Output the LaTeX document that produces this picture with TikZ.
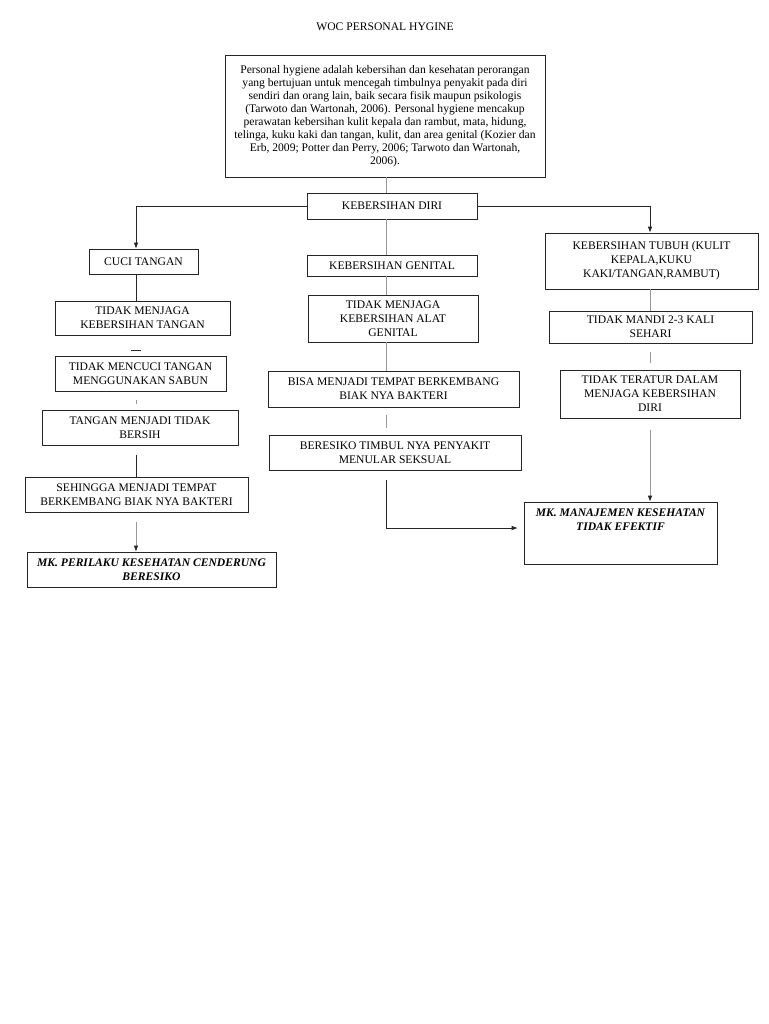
\documentclass[tikz,border=0pt]{standalone}
\usepackage{fontspec}
\setmainfont{Liberation Serif}
\usepackage{tikz}
\usetikzlibrary{positioning,arrows.meta}

\newcommand{\wocfont}{\fontsize{8.7}{10.5}\selectfont}

\tikzset{
    box/.style={draw=black!85, line width=0.6pt, align=center, inner sep=0pt, font=\wocfont},
    mkbox/.style={box, font=\wocfont\bfseries\itshape},
    link/.style={draw=black!85, line width=0.6pt},
    glink/.style={draw=black!40, line width=0.6pt},
    arr/.style={-{Latex[length=4.5pt,width=3.5pt,color=black!85]}}
}

\begin{document}
\begin{tikzpicture}[x=0.75pt,y=0.75pt,yscale=-1,xscale=1]
            \useasboundingbox (0,0) rectangle (768,1024);
            % column lines
            \coordinate (lcol) at (136,0);
            \coordinate (mcol) at (386,0);
            \coordinate (rcol) at (650,0);
            % Title
            \node [font=\wocfont] (title) at (385,27) {WOC PERSONAL HYGINE};
            % definition box
            \node [box, minimum width=240pt, minimum height=91.5pt, font=\fontsize{8.7}{9.8}\selectfont] (def) at (385,116) {Personal hygiene adalah kebersihan dan kesehatan perorangan\\
                yang bertujuan untuk mencegah timbulnya penyakit pada diri\\
                sendiri dan orang lain, baik secara fisik maupun psikologis\\
                (Tarwoto dan Wartonah, 2006). Personal hygiene mencakup\\
                perawatan kebersihan kulit kepala dan rambut, mata, hidung,\\
                telinga, kuku kaki dan tangan, kulit, dan area genital (Kozier dan\\
                Erb, 2009; Potter dan Perry, 2006; Tarwoto dan Wartonah,\\
                2006).};
            \node [box, minimum width=127.5pt, minimum height=19.5pt] (kd) at (392,206) {KEBERSIHAN DIRI};
            % left column
            \node [box, minimum width=81.75pt, minimum height=18.75pt] (cuci) at (143.5,261.5) {CUCI TANGAN};
            \node [box, minimum width=131.25pt, minimum height=25.5pt] (tmt) at (142.5,318) {TIDAK MENJAGA\\ KEBERSIHAN TANGAN};
            \node [box, minimum width=128.25pt, minimum height=26.25pt] (tmc) at (140.5,373.5) {TIDAK MENCUCI TANGAN\\ MENGGUNAKAN SABUN};
            \node [box, minimum width=147pt, minimum height=26.25pt] (tmb) at (140,427.5) {TANGAN MENJADI TIDAK\\ BERSIH};
            \node [box, minimum width=167.25pt, minimum height=26.25pt] (seh) at (136.5,494.5) {SEHINGGA MENJADI TEMPAT\\ BERKEMBANG BIAK NYA BAKTERI};
            \node [mkbox, minimum width=186.75pt, minimum height=26.25pt] (mkp) at (151.5,569.5) {MK. PERILAKU KESEHATAN CENDERUNG\\ BERESIKO};
            % middle column
            \node [box, minimum width=127.5pt, minimum height=15.75pt] (kg) at (392,265.5) {KEBERSIHAN GENITAL};
            \node [box, minimum width=127.5pt, minimum height=35.25pt] (tmg) at (393,318.5) {TIDAK MENJAGA\\ KEBERSIHAN ALAT\\ GENITAL};
            \node [box, minimum width=188.25pt, minimum height=27pt] (bisa) at (393.5,389) {BISA MENJADI TEMPAT BERKEMBANG\\ BIAK NYA BAKTERI};
            \node [box, minimum width=189pt, minimum height=26.25pt] (ber) at (395,452.5) {BERESIKO TIMBUL NYA PENYAKIT\\ MENULAR SEKSUAL};
            % right column
            \node [box, minimum width=159.75pt, minimum height=42pt] (kt) at (651.5,261) {KEBERSIHAN TUBUH (KULIT\\ KEPALA,KUKU\\ KAKI/TANGAN,RAMBUT)};
            \node [box, minimum width=152.25pt, minimum height=24pt] (tmd) at (650.5,327) {TIDAK MANDI 2-3 KALI\\ SEHARI};
            \node [box, minimum width=135pt, minimum height=36pt] (tt) at (650,394) {TIDAK TERATUR DALAM\\ MENJAGA KEBERSIHAN\\ DIRI};
            \node [box, minimum width=144.75pt, minimum height=46.5pt,
                label={[mkbox, draw=none, anchor=north, yshift=-5pt]north:{MK. MANAJEMEN KESEHATAN\\ TIDAK EFEKTIF}}] (mkm) at (620.5,533) {};
            % connectors from the top
            \draw [glink] (mcol |- def.south) -- (mcol |- kd.north);
            \draw [link, arr] (kd.west) -| (lcol |- cuci.north);
            \draw [link, arr] (kd.east) -| (rcol |- kt.north);
            % left chain
            \draw [link] (lcol |- cuci.south) -- (lcol |- tmt.north);
            \draw [link] (lcol |- tmt.south) ++(-5,15) -- ++(10,0);
            \draw [glink] (lcol |- tmc.south) ++(0,9) -- ++(0,4);
            \draw [link, shorten <=7.5pt] (lcol |- tmb.south) -- (lcol |- seh.north);
            \draw [glink, arr, shorten <=7.5pt] (lcol |- seh.south) -- (lcol |- mkp.north);
            % middle chain
            \draw [glink] (mcol |- kd.south) -- (mcol |- kg.north);
            \draw [glink] (mcol |- kg.south) -- (mcol |- tmg.north);
            \draw [glink] (mcol |- tmg.south) -- (mcol |- bisa.north);
            \draw [glink, shorten <=6pt, shorten >=5.25pt] (mcol |- bisa.south) -- (mcol |- ber.north);
            \draw [link, arr, shorten <=7.5pt, shorten >=4.5pt] (mcol |- ber.south) |- ([yshift=-3.75pt]mkm.west);
            % right chain
            \draw [glink] (rcol |- kt.south) -- (rcol |- tmd.north);
            \draw [glink, shorten <=6.75pt, shorten >=5.25pt] (rcol |- tmd.south) -- (rcol |- tt.north);
            \draw [glink, arr, shorten <=9pt] (rcol |- tt.south) -- (rcol |- mkm.north);
        \end{tikzpicture}
\end{document}
